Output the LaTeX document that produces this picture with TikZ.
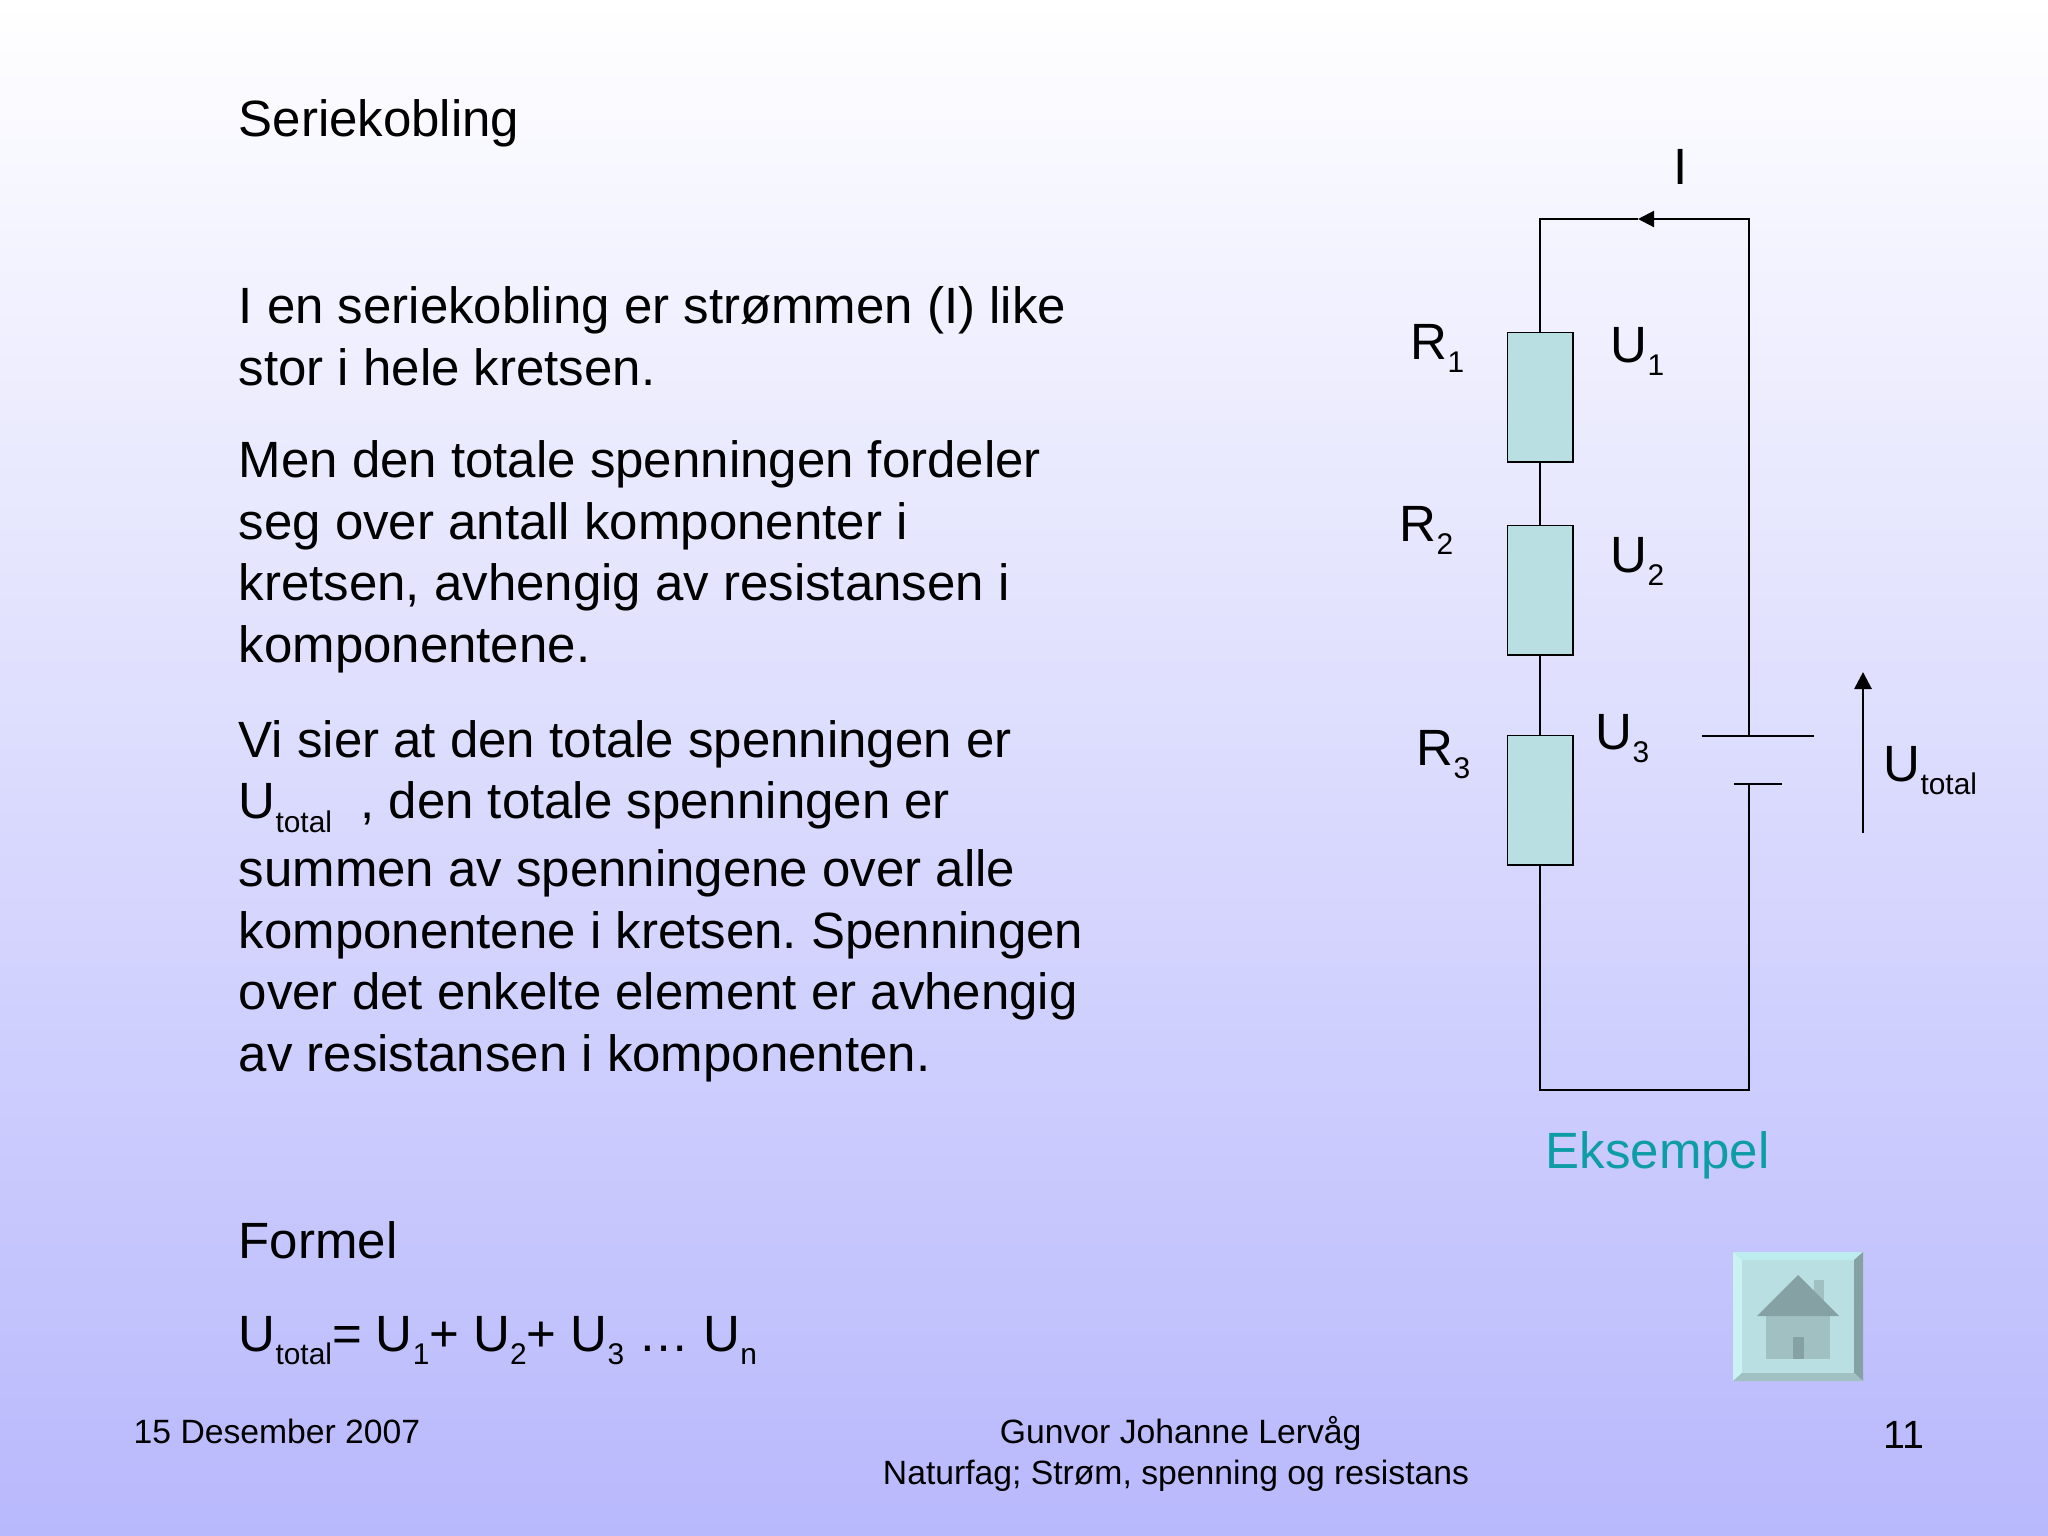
\documentclass[tikz,border=0pt]{standalone}
\usepackage{fontspec}
\setmainfont{Liberation Sans}
\usetikzlibrary{arrows.meta}
\frenchspacing
\definecolor{slidelow}{HTML}{B8B8FD}
\definecolor{boxfill}{HTML}{BADFE2}
\definecolor{tealtext}{HTML}{0E9DA6}
\newcommand{\low}[1]{\raisebox{-.27em}{\fontsize{8.5pt}{10pt}\selectfont #1}}
\tikzset{
  body/.style = {anchor = base west, inner sep = 0pt, align = left, font = \fontsize{14.5pt}{17.45pt}\selectfont},
  foot/.style = {anchor = base, inner sep = 0pt, align = center, font = \fontsize{9.58pt}{11.5pt}\selectfont},
  res/.style = {draw, fill = boxfill, line width = 0.55pt, minimum width = 0.65cm, minimum height = 1.29cm, inner sep = 0pt},
  wire/.style = {line width = 0.6pt},
  plate/.style = {line width = 0.7pt}
}
\begin{document}
\begin{tikzpicture}[x = 0.01cm, y = -0.01cm]
  \useasboundingbox (0, 0) rectangle (2048, 1536);
  \shade[top color = white, bottom color = slidelow, middle color = white!50!slidelow] (0, 0) rectangle (2048, 1536);

  \node[body] (title) at (238, 136) {Seriekobling};
  \node[body] (parone) at (238, 385) {I en seriekobling er strømmen (I) like\\stor i hele kretsen.};
  \node[body] (partwo) at (238, 662) {Men den totale spenningen fordeler\\seg over antall komponenter i\\kretsen, avhengig av resistansen i\\komponentene.};
  \node[body] (parthree) at (238, 1071) {Vi sier at den totale spenningen er\\U\low{total}\ \ , den totale spenningen er\\[1.9pt]summen av spenningene over alle\\komponentene i kretsen. Spenningen\\over det enkelte element er avhengig\\av resistansen i komponenten.};
  \node[body] (formel) at (238, 1258) {Formel};
  \node[body] (formula) at (238, 1351) {U\low{total}= U\low{1}+ U\low{2}+ U\low{3} … U\low{n}};

  \node[res] (rone) at (1540, 397) {};
  \node[res] (rtwo) at (1540, 590) {};
  \node[res] (rthree) at (1540, 800) {};
  \coordinate (topleft) at (1540, 219);
  \coordinate (topright) at (1749, 219);
  \coordinate (itip) at (1638, 219);
  \coordinate (botleft) at (1540, 1090);
  \coordinate (botright) at (1749, 1090);
  \coordinate (longl) at (1702, 736);
  \coordinate (longr) at (1814, 736);
  \coordinate (longm) at (1749, 736);
  \coordinate (shortl) at (1734, 784);
  \coordinate (shortr) at (1782, 784);
  \coordinate (shortm) at (1749, 784);
  \coordinate (ubot) at (1863, 833);
  \coordinate (utop) at (1863, 672);

  \draw[wire] (rone.north) -- (topleft) -- (itip);
  \draw[wire, -{Triangle[length = 0.16cm, width = 0.16cm]}] (longm) -- (topright) -- (itip);
  \draw[wire] (rone.south) -- (rtwo.north);
  \draw[wire] (rtwo.south) -- (rthree.north);
  \draw[wire] (rthree.south) -- (botleft) -- (botright) -- (shortm);
  \draw[plate] (longl) -- (longr);
  \draw[plate] (shortl) -- (shortr);
  \draw[line width = 0.8pt, -{Triangle[length = 0.17cm, width = 0.17cm]}] (ubot) -- (utop);

  \node[body] (ilabel) at (1673, 184) {I};
  \node[body] (rlabone) at (1410, 359) {R\low{1}};
  \node[body] (ulabone) at (1610, 362) {U\low{1}};
  \node[body] (rlabtwo) at (1399, 541) {R\low{2}};
  \node[body] (ulabtwo) at (1610, 572) {U\low{2}};
  \node[body] (rlabthree) at (1416, 765) {R\low{3}};
  \node[body] (ulabthree) at (1595, 749) {U\low{3}};
  \node[body] (ulabtotal) at (1883, 781) {U\low{total}};
  \node[body, text = tealtext] (eksempel) at (1545, 1168) {Eksempel};

  % home button
  \fill[boxfill] (1733, 1252) rectangle (1863, 1381);
  \fill[fill = white!35!boxfill!90!cyan] (1733, 1252) -- (1863, 1252) -- (1854, 1260) -- (1742, 1260) -- cycle;
  \fill[fill = white!55!boxfill!90!cyan] (1733, 1252) -- (1742, 1260) -- (1742, 1373) -- (1733, 1381) -- cycle;
  \fill[fill = boxfill!72!black] (1863, 1252) -- (1854, 1260) -- (1854, 1373) -- (1863, 1381) -- cycle;
  \fill[fill = boxfill!86!black] (1733, 1381) -- (1742, 1373) -- (1854, 1373) -- (1863, 1381) -- cycle;
  \fill[fill = boxfill!86!black] (1814, 1280) rectangle (1824, 1305);
  \fill[fill = boxfill!86!black] (1766, 1316) rectangle (1830, 1359);
  \fill[fill = boxfill!72!black] (1793, 1337) rectangle (1804, 1359);
  \fill[fill = boxfill!72!black] (1798, 1275) -- (1839, 1316) -- (1757, 1316) -- cycle;

  \node[foot, anchor = base west] (date) at (133, 1443) {15 Desember 2007};
  \node[foot] (footer) at (1176, 1484) {~Gunvor Johanne Lervåg\\Naturfag; Strøm, spenning og resistans};
  \node[foot, font = \fontsize{11.2pt}{13pt}\selectfont] (pagenum) at (1904, 1448) {11};
\end{tikzpicture}
\end{document}
